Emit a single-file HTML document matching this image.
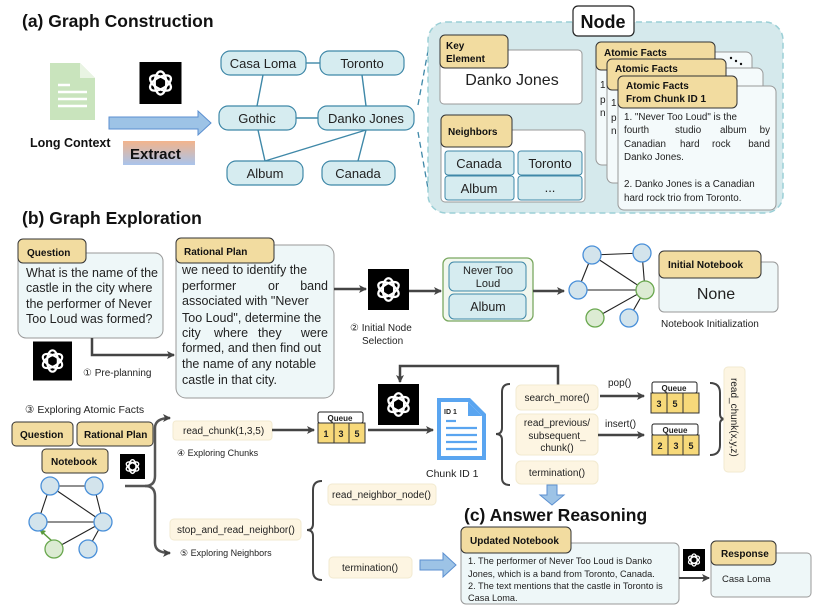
<!DOCTYPE html>
<html><head><meta charset="utf-8"><style>
html,body{margin:0;padding:0;background:#fff}
svg{display:block}
text{font-family:"Liberation Sans","DejaVu Sans",sans-serif;fill:#222}
.b{font-weight:bold}
.h{font-size:17.5px;font-weight:bold;fill:#111}
.t{font-size:10px;font-weight:bold;fill:#111}
.s{font-size:10px}
.m{font-size:12.5px}
</style></head><body>
<svg width="814" height="608" viewBox="0 0 814 608" xmlns="http://www.w3.org/2000/svg">
<defs>
<symbol id="g" viewBox="0 0 40 40">
<rect width="40" height="40" fill="#000"/>
<g fill="none" stroke="#fff" stroke-width="2.2">
<ellipse cx="20" cy="20" rx="5.5" ry="11"/>
<ellipse cx="20" cy="20" rx="5.5" ry="11" transform="rotate(60 20 20)"/>
<ellipse cx="20" cy="20" rx="5.5" ry="11" transform="rotate(120 20 20)"/>
</g>
</symbol>
<marker id="a" markerWidth="8" markerHeight="8" refX="7" refY="4" orient="auto" markerUnits="userSpaceOnUse"><path d="M0,0 L8,4 L0,8 L2,4z" fill="#444"/></marker>
<linearGradient id="ex" x1="0" y1="0" x2="0" y2="1"><stop offset="0" stop-color="#f2b48c"/><stop offset="1" stop-color="#a9c4ec"/></linearGradient>
</defs>

<!-- (a) -->
<text x="22" y="27" class="h">(a) Graph Construction</text>
<path d="M50,63 L80,63 L95,78 L95,120 L50,120 Z" fill="#c9e4bd"/>
<path d="M80,63 L80,78 L95,78" fill="#e9f4e3"/>
<g stroke="#fff" stroke-width="2.5"><line x1="58" y1="85" x2="70" y2="85"/><line x1="58" y1="92" x2="87" y2="92"/><line x1="58" y1="99" x2="87" y2="99"/><line x1="58" y1="106" x2="87" y2="106"/></g>
<text x="30" y="147" class="b" style="font-size:12.5px;fill:#111">Long Context</text>
<use href="#g" x="139" y="62" width="43" height="42"/>
<path d="M109,117 L198,117 L198,111 L211,123 L198,135 L198,129 L109,129 Z" fill="#9dc3e6" stroke="#5b8fd0" stroke-width="1"/>
<rect x="123" y="141" width="72" height="24" fill="url(#ex)"/>
<text x="130" y="159" class="b" style="font-size:15px;fill:#111">Extract</text>
<g stroke="#3f88a8" stroke-width="1.4">
<line x1="306" y1="63" x2="320" y2="63"/><line x1="263" y1="75" x2="257" y2="106"/><line x1="362" y1="75" x2="366" y2="106"/>
<line x1="296" y1="118" x2="318" y2="118"/><line x1="258" y1="130" x2="265" y2="161"/><line x1="366" y1="130" x2="265" y2="161"/><line x1="366" y1="130" x2="358" y2="161"/>
</g>
<g fill="#d6ecf0" stroke="#3f88a8" stroke-width="1.2">
<rect x="221" y="51" width="85" height="24" rx="9"/><rect x="320" y="51" width="84" height="24" rx="9"/>
<rect x="219" y="106" width="77" height="24" rx="9"/><rect x="318" y="106" width="96" height="24" rx="9"/>
<rect x="227" y="161" width="76" height="24" rx="9"/><rect x="322" y="161" width="73" height="24" rx="9"/>
</g>
<g style="font-size:13px" text-anchor="middle">
<text x="263" y="68">Casa Loma</text><text x="362" y="68">Toronto</text><text x="257" y="123">Gothic</text>
<text x="366" y="123">Danko Jones</text><text x="265" y="178">Album</text><text x="358" y="178">Canada</text>
</g>
<g stroke="#3f88a8" stroke-width="1.3" stroke-dasharray="6,4" fill="none">
<line x1="418" y1="105" x2="430" y2="40"/><line x1="418" y1="132" x2="430" y2="200"/>
</g>
<rect x="428" y="22" width="355" height="191" rx="18" fill="#d5e9ec" stroke="#9bcfd6" stroke-width="1.5" stroke-dasharray="6,4"/>
<rect x="573" y="6" width="61" height="30" rx="5" fill="#fff" stroke="#222" stroke-width="1.2"/>
<text x="603" y="28" class="b" text-anchor="middle" style="font-size:18px;fill:#111">Node</text>
<rect x="440" y="50" width="142" height="54" rx="4" fill="#fff" stroke="#999"/>
<rect x="440" y="35" width="68" height="33" rx="5" fill="#f2dca0" stroke="#333"/>
<text x="446" y="49" class="t">Key</text><text x="446" y="62" class="t">Element</text>
<text x="512" y="85" text-anchor="middle" style="font-size:16px">Danko Jones</text>
<rect x="441" y="130" width="144" height="72" rx="4" fill="#fff" stroke="#999"/>
<rect x="441" y="115" width="71" height="32" rx="5" fill="#f2dca0" stroke="#333"/>
<text x="448" y="135" class="t">Neighbors</text>
<g fill="#d6ecf0" stroke="#3f88a8"><rect x="445" y="151" width="69" height="24" rx="3"/><rect x="518" y="151" width="64" height="24" rx="3"/><rect x="445" y="176" width="69" height="24" rx="3"/><rect x="518" y="176" width="64" height="24" rx="3"/></g>
<g style="font-size:13px" text-anchor="middle"><text x="479" y="168">Canada</text><text x="550" y="168">Toronto</text><text x="479" y="193">Album</text><text x="550" y="192">...</text></g>
<rect x="596" y="52" width="156" height="113" rx="6" fill="#f4fafb" stroke="#999"/>
<rect x="596" y="42" width="119" height="28" rx="5" fill="#f2dca0" stroke="#333"/>
<text x="604" y="56" class="t">Atomic Facts</text>
<circle cx="731" cy="58" r="1.2" fill="#111"/><circle cx="736" cy="61" r="1.2" fill="#111"/><circle cx="741" cy="64" r="1.2" fill="#111"/>
<text x="600" y="88" class="s">1</text><text x="600" y="103" class="s">p</text><text x="600" y="116" class="s">n</text>
<rect x="607" y="68" width="156" height="115" rx="6" fill="#f4fafb" stroke="#999"/>
<rect x="607" y="59" width="119" height="31" rx="5" fill="#f2dca0" stroke="#333"/>
<text x="615" y="72" class="t">Atomic Facts</text>
<text x="611" y="106" class="s">1</text><text x="611" y="121" class="s">p</text><text x="611" y="134" class="s">n</text>
<rect x="618" y="86" width="158" height="124" rx="6" fill="#f4fafb" stroke="#999"/>
<rect x="618" y="76" width="119" height="32" rx="5" fill="#f2dca0" stroke="#333"/>
<text x="626" y="89" class="t">Atomic Facts</text><text x="626" y="102" class="t">From Chunk ID 1</text>
<g style="font-size:9.8px">
<text x="624" y="120">1. "Never Too Loud" is the</text>
<text x="624" y="133">fourth</text><text x="675" y="133">studio</text><text x="720" y="133">album</text><text x="770" y="133" text-anchor="end">by</text>
<text x="624" y="147">Canadian</text><text x="680" y="147">hard</text><text x="712" y="147">rock</text><text x="770" y="147" text-anchor="end">band</text>
<text x="624" y="160">Danko Jones.</text>
<text x="624" y="187">2. Danko Jones is a Canadian</text>
<text x="624" y="201">hard rock trio from Toronto.</text>
</g>

<!-- (b) -->
<text x="22" y="224" class="h">(b) Graph Exploration</text>
<rect x="18" y="253" width="145" height="85" rx="8" fill="#eef7f8" stroke="#999"/>
<rect x="18" y="239" width="68" height="24" rx="5" fill="#f2dca0" stroke="#333"/>
<text x="27" y="256" class="t">Question</text>
<text x="26" y="277" class="m">What is the name of the</text><text x="26" y="292" class="m">castle in the city where</text><text x="26" y="308" class="m">the performer of Never</text><text x="26" y="323" class="m">Too Loud was formed?</text>
<use href="#g" x="33" y="341" width="39" height="40"/>
<path d="M92,338 L92,355 L174,355" fill="none" stroke="#444" stroke-width="2.5" marker-end="url(#a)"/>
<text x="83" y="376" class="s">① Pre-planning</text>
<rect x="176" y="245" width="158" height="153" rx="10" fill="#eef7f8" stroke="#999"/>
<rect x="176" y="238" width="98" height="25" rx="5" fill="#f2dca0" stroke="#333"/>
<text x="184" y="255" class="t">Rational Plan</text>
<text x="182" y="274" class="m">we need to identify the</text>
<text x="182" y="290" class="m">performer</text><text x="268" y="290" class="m">or</text><text x="328" y="290" class="m" text-anchor="end">band</text>
<text x="182" y="305" class="m">associated with "Never</text>
<text x="182" y="322" class="m">Too Loud", determine the</text>
<text x="182" y="337" class="m">city</text><text x="214" y="337" class="m">where</text><text x="258" y="337" class="m">they</text><text x="328" y="337" class="m" text-anchor="end">were</text>
<text x="182" y="352" class="m">formed, and then find out</text>
<text x="182" y="368" class="m">the name of any notable</text>
<text x="182" y="384" class="m">castle in that city.</text>
<line x1="334" y1="289" x2="366" y2="289" stroke="#444" stroke-width="2.5" marker-end="url(#a)"/>
<use href="#g" x="368" y="269" width="41" height="41"/>
<text x="350" y="331" class="s">② Initial Node</text><text x="362" y="344" class="s">Selection</text>
<line x1="409" y1="291" x2="441" y2="291" stroke="#444" stroke-width="2.5" marker-end="url(#a)"/>
<rect x="443" y="258" width="90" height="63" rx="6" fill="#f2f7ee" stroke="#7aa860" stroke-width="1.3"/>
<rect x="449" y="262" width="77" height="29" rx="5" fill="#d6ecf0" stroke="#3f88a8"/>
<rect x="449" y="294" width="77" height="25" rx="5" fill="#d6ecf0" stroke="#3f88a8"/>
<text x="488" y="274" text-anchor="middle" style="font-size:11px">Never Too</text><text x="488" y="287" text-anchor="middle" style="font-size:11px">Loud</text>
<text x="488" y="311" text-anchor="middle" style="font-size:12.5px">Album</text>
<line x1="533" y1="291" x2="564" y2="291" stroke="#444" stroke-width="2.5" marker-end="url(#a)"/>
<g stroke="#222" stroke-width="1.1">
<line x1="592" y1="255" x2="642" y2="253"/><line x1="592" y1="255" x2="645" y2="290"/><line x1="592" y1="255" x2="578" y2="290"/>
<line x1="578" y1="290" x2="645" y2="290"/><line x1="642" y1="253" x2="645" y2="290"/><line x1="595" y1="318" x2="645" y2="290"/><line x1="629" y1="318" x2="645" y2="290"/>
</g>
<g stroke-width="1.3">
<circle cx="592" cy="255" r="9" fill="#d3e4ec" stroke="#4a90d9"/><circle cx="642" cy="253" r="9" fill="#d3e4ec" stroke="#4a90d9"/>
<circle cx="578" cy="290" r="9" fill="#d3e4ec" stroke="#4a90d9"/><circle cx="645" cy="290" r="9" fill="#dcebd3" stroke="#6aa84f"/>
<circle cx="595" cy="318" r="9" fill="#dcebd3" stroke="#6aa84f"/><circle cx="629" cy="318" r="9" fill="#d3e4ec" stroke="#4a90d9"/>
</g>
<rect x="659" y="262" width="119" height="50" rx="5" fill="#eef7f8" stroke="#999"/>
<rect x="659" y="251" width="102" height="27" rx="5" fill="#f2dca0" stroke="#333"/>
<text x="668" y="268" class="t">Initial Notebook</text>
<text x="716" y="299" text-anchor="middle" style="font-size:16px">None</text>
<text x="661" y="327" class="s">Notebook Initialization</text>

<!-- lower b -->
<text x="25" y="413" class="s" style="font-size:10.5px">③ Exploring Atomic Facts</text>
<g fill="#f2dca0" stroke="#333"><rect x="12" y="422" width="61" height="24" rx="4"/><rect x="77" y="422" width="76" height="24" rx="4"/><rect x="42" y="449" width="66" height="24" rx="4"/></g>
<text x="20" y="438" class="t">Question</text><text x="84" y="438" class="t">Rational Plan</text><text x="51" y="465" class="t">Notebook</text>
<use href="#g" x="120" y="454" width="25" height="25"/>
<g stroke="#222" stroke-width="1.1">
<line x1="50" y1="486" x2="94" y2="486"/><line x1="50" y1="486" x2="103" y2="522"/><line x1="50" y1="486" x2="38" y2="522"/>
<line x1="38" y1="522" x2="103" y2="522"/><line x1="94" y1="486" x2="103" y2="522"/><line x1="54" y1="549" x2="103" y2="522"/><line x1="88" y1="549" x2="103" y2="522"/>
</g>
<line x1="52" y1="541" x2="41" y2="531" stroke="#5a9a3a" stroke-width="1.5"/><path d="M39,529 L46,531 L42,535z" fill="#5a9a3a"/>
<g stroke-width="1.3">
<circle cx="50" cy="486" r="9" fill="#d3e4ec" stroke="#4a90d9"/><circle cx="94" cy="486" r="9" fill="#d3e4ec" stroke="#4a90d9"/>
<circle cx="38" cy="522" r="9" fill="#d3e4ec" stroke="#4a90d9"/><circle cx="103" cy="522" r="9" fill="#d3e4ec" stroke="#4a90d9"/>
<circle cx="54" cy="549" r="9" fill="#dcebd3" stroke="#6aa84f"/><circle cx="88" cy="549" r="9" fill="#d3e4ec" stroke="#4a90d9"/>
</g>
<path d="M125,486 L145,486 Q155,486 155,476 L155,428 Q155,418 170,418" fill="none" stroke="#555" stroke-width="2.5" marker-end="url(#a)"/>
<path d="M145,486 Q155,486 155,496 L155,543 Q155,553 170,553" fill="none" stroke="#555" stroke-width="2.5" marker-end="url(#a)"/>
<rect x="173" y="421" width="99" height="19" rx="3" fill="#fdf5e2" stroke="#f2ead0"/>
<text x="183" y="434" class="s">read_chunk(1,3,5)</text>
<line x1="272" y1="430" x2="314" y2="430" stroke="#444" stroke-width="2.5" marker-end="url(#a)"/>
<text x="177" y="456" class="s" style="font-size:9px">④ Exploring Chunks</text>
<rect x="318" y="412" width="45" height="11" rx="2" fill="#fff" stroke="#222"/><text x="340" y="421" class="b" text-anchor="middle" style="font-size:8px">Queue</text>
<g fill="#f7d97a" stroke="#333"><rect x="318" y="423" width="16" height="20"/><rect x="334" y="423" width="15" height="20"/><rect x="349" y="423" width="16" height="20"/></g>
<g class="b" style="font-size:9px" text-anchor="middle"><text x="326" y="437">1</text><text x="341" y="437">3</text><text x="357" y="437">5</text></g>
<line x1="368" y1="430" x2="433" y2="430" stroke="#444" stroke-width="2.5" marker-end="url(#a)"/>
<use href="#g" x="378" y="384" width="41" height="41"/>
<path d="M558,385 L558,366 L400,366 L400,382" fill="none" stroke="#444" stroke-width="2.5" marker-end="url(#a)"/>
<path d="M437,398 L470,398 L486,414 L486,460 L437,460 Z" fill="#5aa5f0"/>
<path d="M441,402 L468,402 L482,416 L482,456 L441,456 Z" fill="#fff"/>
<path d="M468,402 L468,416 L482,416" fill="#5aa5f0"/>
<text x="444" y="414" class="b" style="font-size:7px">ID 1</text>
<g stroke="#5aa5f0" stroke-width="2.2"><line x1="446" y1="421" x2="456" y2="421"/><line x1="446" y1="428" x2="477" y2="428"/><line x1="446" y1="435" x2="477" y2="435"/><line x1="446" y1="442" x2="477" y2="442"/><line x1="446" y1="449" x2="477" y2="449"/></g>
<text x="426" y="477" class="s" style="font-size:10.5px">Chunk ID 1</text>
<path d="M510,384 Q502,384 502,392 L502,428 Q502,434 496,434 Q502,434 502,440 L502,478 Q502,485 510,485" fill="none" stroke="#444" stroke-width="2"/>
<g fill="#fdf5e2" stroke="#f2ead0"><rect x="516" y="385" width="82" height="25" rx="5"/><rect x="516" y="414" width="82" height="41" rx="5"/><rect x="516" y="461" width="82" height="23" rx="5"/></g>
<g class="s" text-anchor="middle"><text x="557" y="401">search_more()</text><text x="557" y="426">read_previous/</text><text x="557" y="439">subsequent_</text><text x="557" y="451">chunk()</text><text x="557" y="476">termination()</text></g>
<text x="608" y="386" class="s">pop()</text><text x="605" y="427" class="s">insert()</text>
<line x1="600" y1="396" x2="644" y2="396" stroke="#444" stroke-width="2.5" marker-end="url(#a)"/>
<line x1="598" y1="435" x2="644" y2="435" stroke="#444" stroke-width="2.5" marker-end="url(#a)"/>
<rect x="652" y="382" width="45" height="11" rx="2" fill="#fff" stroke="#222"/><text x="674" y="391" class="b" text-anchor="middle" style="font-size:8px">Queue</text>
<g fill="#f7d97a" stroke="#333"><rect x="651" y="393" width="16" height="20"/><rect x="667" y="393" width="16" height="20"/><rect x="683" y="393" width="16" height="20"/></g>
<rect x="652" y="424" width="46" height="11" rx="2" fill="#fff" stroke="#222"/><text x="675" y="433" class="b" text-anchor="middle" style="font-size:8px">Queue</text>
<g fill="#f7d97a" stroke="#333"><rect x="652" y="435" width="16" height="20"/><rect x="668" y="435" width="15" height="20"/><rect x="683" y="435" width="16" height="20"/></g>
<g class="b" style="font-size:9px" text-anchor="middle"><text x="659" y="407">3</text><text x="675" y="407">5</text><text x="660" y="449">2</text><text x="676" y="449">3</text><text x="691" y="449">5</text></g>
<path d="M710,383 Q720,383 720,393 L720,414 Q720,419 725,419 Q720,419 720,424 L720,445 Q720,455 710,455" fill="none" stroke="#444" stroke-width="2"/>
<rect x="724" y="367" width="21" height="105" rx="4" fill="#fdf5e2" stroke="#f2ead0"/>
<text x="0" y="0" class="s" transform="translate(731,378) rotate(90)">read_chunk(x,y,z)</text>
<path d="M547,485 L557,485 L557,495 L564,495 L552,505 L540,495 L547,495 Z" fill="#9dc3e6" stroke="#5b8fd0"/>

<!-- (c) -->
<text x="464" y="521" class="h">(c) Answer Reasoning</text>
<rect x="170" y="519" width="131" height="21" rx="4" fill="#fdf5e2" stroke="#f2ead0"/>
<text x="177" y="533" class="s">stop_and_read_neighbor()</text>
<text x="180" y="556" class="s" style="font-size:9px">⑤ Exploring Neighbors</text>
<path d="M322,481 Q313,481 313,490 L313,524 Q313,530 307,530 Q313,530 313,536 L313,571 Q313,580 322,580" fill="none" stroke="#444" stroke-width="2"/>
<rect x="328" y="484" width="108" height="21" rx="4" fill="#fdf5e2" stroke="#f2ead0"/>
<text x="332" y="498" class="s">read_neighbor_node()</text>
<rect x="329" y="557" width="83" height="21" rx="4" fill="#fdf5e2" stroke="#f2ead0"/>
<text x="342" y="571" class="s">termination()</text>
<path d="M420,560 L443,560 L443,553 L456,565 L443,577 L443,570 L420,570 Z" fill="#9dc3e6" stroke="#5b8fd0"/>
<rect x="461" y="543" width="218" height="61" rx="5" fill="#eef7f8" stroke="#999"/>
<rect x="461" y="527" width="110" height="26" rx="5" fill="#f2dca0" stroke="#333"/>
<text x="470" y="544" class="t">Updated Notebook</text>
<g style="font-size:9.2px"><text x="468" y="564">1. The performer of Never Too Loud is Danko</text><text x="468" y="577">Jones, which is a band from Toronto, Canada.</text><text x="468" y="589">2. The text mentions that the castle in Toronto is</text><text x="468" y="601">Casa Loma.</text></g>
<use href="#g" x="683" y="548" width="22" height="24"/>
<line x1="679" y1="578" x2="709" y2="578" stroke="#444" stroke-width="2" marker-end="url(#a)"/>
<rect x="711" y="553" width="100" height="44" rx="4" fill="#eef7f8" stroke="#999"/>
<rect x="711" y="541" width="65" height="24" rx="5" fill="#f2dca0" stroke="#333"/>
<text x="721" y="557" class="t">Response</text>
<text x="722" y="582" style="font-size:9.5px">Casa Loma</text>
</svg>
</body></html>
